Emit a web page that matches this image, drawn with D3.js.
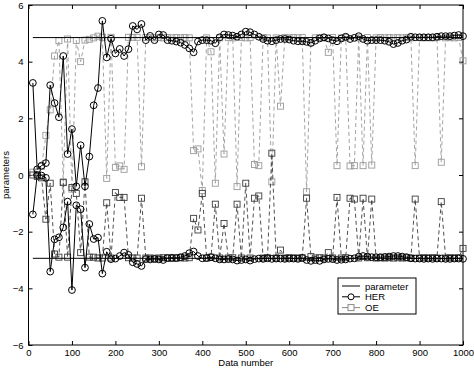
<!DOCTYPE html>
<html>
<head>
<meta charset="utf-8">
<script src="https://cdn.jsdelivr.net/npm/d3@7"></script>
<style>
  body { margin: 0; background: #fff; }
  svg text { font-family: "Liberation Sans", Arial, sans-serif; font-size: 9.5px; fill: #000; }
</style>
</head>
<body>
<svg id="chart" width="474" height="372"></svg>
<script>
// data number of each sample (every 10th point)
const dataNumber = d3.range(10, 1001, 10);

// true parameter values
const paramValues = [4.85, -2.94];
const paramRange = [10, 1000];

// HER estimates of parameter 1 and 2
const her1 = [
  3.25, 0.2, 0.33, 0.42, 3.17, 2.54, 2.04, 4.2, 0.74, 1.62,
  -0.4, 1.05, -0.4, 0.65, 2.46, 3.07, 5.44, 4.15, 4.81, 4.29,
  4.45, 4.2, 4.44, 5.26, 5.14, 5.33, 4.76,
  4.91, 4.76, 4.96, 4.94, 4.76, 4.74, 4.71, 4.67, 4.59, 4.47,
  4.33, 4.71, 4.76, 4.76, 4.74, 4.65, 4.86, 4.96, 4.94, 4.92,
  4.88, 4.96, 5.06, 5.04, 4.96, 4.88, 4.8, 4.74, 4.72, 4.76,
  4.8, 4.8, 4.78, 4.74, 4.72, 4.72, 4.7, 4.66, 4.74, 4.82,
  4.86, 4.82, 4.76, 4.72, 4.82, 4.88, 4.8, 4.84,
  4.9, 4.8, 4.74, 4.76, 4.76, 4.76, 4.74, 4.7, 4.62, 4.66,
  4.74, 4.78, 4.88, 4.86, 4.86, 4.86, 4.86, 4.86, 4.88, 4.9,
  4.9, 4.9, 4.92, 4.94, 4.9
];
const her2 = [
  -1.39, 0.0, -0.02, -0.1, -3.41, -2.27, -2.2, -1.85, -0.94, -4.06,
  -1.07, -1.21, -3.27, -1.73, -2.26, -2.21, -3.48, -2.71, -2.97, -2.95,
  -2.86, -2.74, -2.82, -3.08, -3.14, -3.21, -2.97,
  -2.98, -2.97, -2.98, -3.0, -2.93, -2.92, -2.93, -2.9, -2.86, -2.76,
  -2.7, -2.86, -2.94, -2.93, -2.9, -2.94, -2.98, -2.98, -2.97, -2.98,
  -3.02, -3.0, -2.98, -3.02, -2.97, -2.95, -2.96, -2.94, -2.96, -2.95,
  -2.95, -2.96, -2.95, -2.95, -2.96, -2.93, -3.0, -3.03, -3.0, -3.03,
  -2.98, -2.96, -2.97, -3.0, -2.99, -2.98, -2.95, -2.94,
  -2.88, -2.86, -2.88, -2.9, -2.9, -2.9, -2.89, -2.88, -2.86, -2.86,
  -2.88, -2.9, -2.94, -2.95, -2.95, -2.96, -2.95, -2.96, -2.95, -2.95,
  -2.96, -2.96, -2.95, -2.95, -2.96
];

// OE estimates of parameter 1 and 2
const oe1 = [
  0.1, 0.1, 0.3, 1.4, 2.3, 4.2, 4.74, -0.24, 4.8, -0.5,
  4.75, 4.0, 4.76, 4.79, 4.84, 4.9, 4.86, -0.12, 4.86, 0.27,
  0.32, 0.2, 4.86, 4.86, 4.86, 0.29, 4.85,
  4.85, 4.84, 4.85, 4.84, 4.85, 4.84, 4.85, 4.84, 4.85, 4.84,
  0.86, 0.92, -0.55, 4.84, 4.35, -0.29, 4.84, 0.74, 4.85, 4.84,
  -0.41, 4.85, 4.84, 4.85, 0.37, 0.33, 4.85, 4.84, -0.24, 4.84,
  2.43, 4.85, 4.84, 4.85, 4.84, 4.85, -0.59, 4.67, 4.84, 4.85,
  4.84, 4.33, 4.85, 0.33, 4.84, 4.85, 0.32, 0.33,
  4.84, 0.33, 4.85, 0.35, 4.84, 4.85, 4.84, 4.85, 4.84, 4.85,
  4.84, 4.85, 4.84, 0.33, 4.85, 4.84, 4.85, 4.84, 4.85, 0.45,
  4.84, 4.85, 4.84, 4.85, 4.03
];
const oe2 = [
  0.0, -0.05, -0.1, -1.56, -0.29, -2.79, -2.9, -0.27, -2.9, -0.44,
  -0.65, -2.74, -0.24, -2.9, -2.9, -2.93, -2.93, -0.98, -2.93, -0.62,
  -0.79, -0.79, -2.92, -2.93, -2.93, -0.82, -2.93,
  -2.93, -2.94, -2.93, -2.92, -2.93, -2.94, -2.93, -2.92, -2.93, -2.92,
  -1.53, -1.94, -0.65, -2.93, -2.9, -1.03, -2.93, -1.71, -2.93, -2.92,
  -1.03, -2.93, -0.29, -2.93, -0.82, -0.74, -2.93, -2.92, 0.77, -2.93,
  -2.65, -2.93, -2.92, -2.93, -2.93, -2.92, -0.82, -2.88, -2.93, -2.92,
  -2.93, -2.74, -2.93, -0.79, -2.93, -2.92, -0.82, -0.85,
  -2.93, -0.82, -2.92, -0.85, -2.93, -2.92, -2.93, -2.92, -2.93, -2.92,
  -2.93, -2.92, -2.93, -0.85, -2.93, -2.92, -2.93, -2.92, -2.93, -0.94,
  -2.93, -2.92, -2.93, -2.92, -2.59
];

const xTicks = d3.range(0, 1001, 100);
const yTicks = [-6, -4, -2, 0, 2, 4, 6];
const legendNames = ["parameter", "HER", "OE"];

const svg = d3.select("#chart");
const plotLeft = 28.5, plotRight = 463, plotTop = 5, plotBottom = 345;

const x = d3.scaleLinear().domain([0, 1000]).range([plotLeft, plotRight]);
const y = d3.scaleLinear().domain([-6, 6]).range([plotBottom, plotTop]);

// axes, ticks pointing inwards
svg.append("g")
    .attr("transform", `translate(0,${plotBottom})`)
    .call(d3.axisBottom(x).tickValues(xTicks).tickFormat(d3.format("d"))
        .tickSizeInner(-4).tickSizeOuter(0).tickPadding(4));
svg.append("g")
    .attr("transform", `translate(0,${plotTop})`)
    .call(d3.axisTop(x).tickValues(xTicks).tickSizeInner(-4).tickSizeOuter(0).tickFormat(""));
svg.append("g")
    .attr("transform", `translate(${plotLeft},0)`)
    .call(d3.axisLeft(y).tickValues(yTicks).tickFormat(d3.format("d"))
        .tickSizeInner(-4).tickSizeOuter(0).tickPadding(5));
svg.append("g")
    .attr("transform", `translate(${plotRight},0)`)
    .call(d3.axisRight(y).tickValues(yTicks).tickSizeInner(-4).tickSizeOuter(0).tickFormat(""));
svg.selectAll(".tick text").attr("font-size", "10px").attr("font-family", "Liberation Sans, Arial, sans-serif");
svg.selectAll(".domain").remove();

svg.append("rect")
    .attr("x", plotLeft).attr("y", plotTop)
    .attr("width", plotRight - plotLeft).attr("height", plotBottom - plotTop)
    .attr("fill", "none").attr("stroke", "#000").attr("stroke-width", 1);

const line = d3.line()
    .x((d, i) => x(dataNumber[i]))
    .y(d => y(d));

function drawOE(values, color) {
    svg.append("path")
        .datum(values)
        .attr("d", line)
        .attr("fill", "none")
        .attr("stroke", color)
        .attr("stroke-width", 0.9)
        .attr("stroke-dasharray", "4,3");
    svg.append("g").selectAll("rect")
        .data(values)
        .enter()
        .append("rect")
        .attr("x", (d, i) => x(dataNumber[i]) - 3)
        .attr("y", d => y(d) - 3)
        .attr("width", 6)
        .attr("height", 6)
        .attr("fill", "none")
        .attr("stroke", color)
        .attr("stroke-width", 0.9);
}

function drawHER(values) {
    svg.append("path")
        .datum(values)
        .attr("d", line)
        .attr("fill", "none")
        .attr("stroke", "#000")
        .attr("stroke-width", 1);
    svg.append("g").selectAll("circle")
        .data(values)
        .enter()
        .append("circle")
        .attr("cx", (d, i) => x(dataNumber[i]))
        .attr("cy", d => y(d))
        .attr("r", 3.4)
        .attr("fill", "none")
        .attr("stroke", "#000")
        .attr("stroke-width", 1);
}

drawOE(oe1, "#9a9a9a");
drawOE(oe2, "#3c3c3c");

paramValues.forEach(v => {
    svg.append("line")
        .attr("x1", x(paramRange[0])).attr("x2", x(paramRange[1]))
        .attr("y1", y(v)).attr("y2", y(v))
        .attr("stroke", "#000")
        .attr("stroke-width", 1);
});

drawHER(her1);
drawHER(her2);

// axis titles
svg.append("text")
    .attr("x", (plotLeft + plotRight) / 2)
    .attr("y", 366)
    .attr("text-anchor", "middle")
    .attr("font-size", "10px")
    .text("Data number");
svg.append("text")
    .attr("transform", `translate(9,${(plotTop + plotBottom) / 2}) rotate(-90)`)
    .attr("text-anchor", "middle")
    .attr("font-size", "10px")
    .text("parameters");

// legend
const lg = svg.append("g").attr("transform", "translate(338,278)");
lg.append("rect")
    .attr("width", 78).attr("height", 36)
    .attr("fill", "#fff").attr("stroke", "#000").attr("stroke-width", 1);
legendNames.forEach((name, i) => {
    const yy = 8 + i * 10.8;
    const col = i === 2 ? "#888" : "#000";
    lg.append("line")
        .attr("x1", 4).attr("x2", 22).attr("y1", yy).attr("y2", yy)
        .attr("stroke", col).attr("stroke-width", 1);
    if (i === 1) {
        lg.append("circle").attr("cx", 13).attr("cy", yy).attr("r", 3)
            .attr("fill", "#fff").attr("stroke", "#000");
    }
    if (i === 2) {
        lg.append("rect").attr("x", 10).attr("y", yy - 3).attr("width", 6).attr("height", 6)
            .attr("fill", "#fff").attr("stroke", col);
    }
    lg.append("text")
        .attr("x", 27).attr("y", yy + 3.5)
        .attr("font-size", "10px")
        .text(name);
});
</script>
</body>
</html>
